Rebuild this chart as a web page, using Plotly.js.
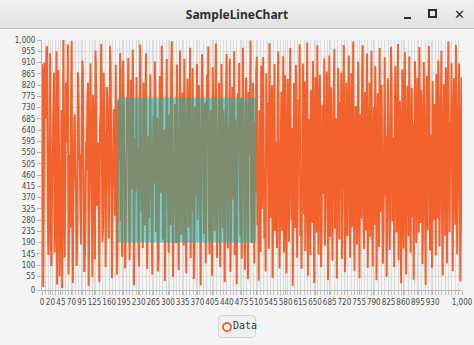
<!DOCTYPE html>
<html>
<head>
<meta charset="utf-8">
<script src="https://cdn.plot.ly/plotly-3.0.1.min.js"></script>
<style>
  html, body { margin: 0; padding: 0; width: 474px; height: 345px; overflow: hidden; background: #f4f4f4; }
  #titlebar { position: absolute; left: 0; top: 0; width: 474px; height: 28px;
    background: linear-gradient(#efefef, #e2e2e2); border-bottom: 1px solid #c4c4c4; z-index: 5;
    font-family: "Noto Sans", "DejaVu Sans", sans-serif; }
  #wtitle { position: absolute; left: 0; width: 474px; top: 6px; text-align: center; font-size: 12px; font-weight: bold; color: #2e2e2e; }
  #bmin { position: absolute; left: 404px; top: 17px; width: 7px; height: 2px; background: #2e2e2e; }
  #bmax { position: absolute; left: 428px; top: 9px; width: 5px; height: 5px; border: 2px solid #2e2e2e; }
  #bclose { position: absolute; left: 454px; top: 5px; font-size: 13px; font-weight: bold; color: #2e2e2e; }
  #chart { position: absolute; left: 0; top: 0; width: 474px; height: 345px; }
  #legend { position: absolute; left: 218px; top: 315px; width: 38px; height: 23px; box-sizing: border-box;
    border: 1px solid #d4d4d4; border-radius: 4px; background: #f0f0f0; z-index: 5; }
  #legsym { position: absolute; left: 3px; top: 6px; width: 6px; height: 6px; border: 2px solid #f3622d; border-radius: 50%; background: #fff; }
  #legtxt { position: absolute; left: 14px; top: 4px; font-family: "DejaVu Sans Mono", monospace; font-size: 10px; color: #333; }
</style>
</head>
<body>
<div id="titlebar"><div id="wtitle">SampleLineChart</div><div id="bmin"></div><div id="bmax"></div><div id="bclose">✕</div></div>
<div id="chart"></div>
<div id="legend"><div id="legsym"></div><div id="legtxt"></div></div>
<script>
var seriesName = "Data";

// series values (667 samples spread over 0..1000)
var yValues = [
905,874,12,433,910,702,688,962,975,355,140,268,520,947,180,96,412,640,603,870,150,221,430,955,22,
781,880,557,55,260,318,720,8,472,1000,415,130,366,830,611,589,982,62,199,540,250,731,995,310,28,
512,640,702,455,388,96,230,871,763,519,544,301,182,655,918,860,409,72,137,266,593,480,741,829,15,
348,377,906,614,238,52,781,693,460,122,957,815,336,407,589,275,31,648,701,984,436,192,258,870,563,
627,91,344,812,755,419,206,538,975,880,163,47,390,612,724,538,297,901,446,61,183,759,632,520,948,
276,405,133,889,917,650,318,87,246,502,771,694,928,354,119,268,841,577,403,962,731,19,245,608,395,
852,463,571,206,94,738,982,625,314,447,168,830,577,259,703,946,411,85,332,617,290,774,862,538,147,
61,523,698,427,915,801,232,356,689,74,125,493,856,610,388,977,745,202,519,641,36,297,813,924,458,
367,149,702,583,260,871,996,416,53,285,638,744,519,187,902,433,326,80,675,958,541,220,376,790,612,
178,925,484,339,67,592,846,713,251,408,969,128,664,315,887,529,44,153,734,612,377,905,281,496,820,
541,302,18,677,943,816,469,224,587,750,106,398,861,632,975,270,143,509,718,384,57,892,627,441,236,
764,986,355,128,470,603,829,311,92,537,904,662,248,719,415,31,580,863,944,297,166,652,488,925,73,
236,598,812,427,361,955,140,682,509,23,347,788,631,908,452,215,767,126,583,969,707,342,81,466,849,
615,277,43,792,538,680,998,364,187,445,829,552,106,671,391,874,933,260,485,38,719,604,152,897,326,
488,931,611,205,353,74,867,520,749,412,165,987,673,288,530,819,47,371,655,904,236,592,430,168,771,
954,502,86,329,618,793,237,477,935,150,702,859,316,66,581,844,412,193,726,968,530,281,647,17,393,
829,664,248,901,475,129,358,762,596,983,216,437,85,548,906,679,302,834,155,421,763,990,58,317,684,
443,140,799,532,267,916,645,27,372,851,588,230,979,406,142,697,861,508,91,263,742,615,384,926,177,
296,553,874,701,39,486,938,213,630,811,359,117,572,802,964,245,419,685,46,327,889,574,202,751,498,
870,123,397,658,980,541,71,306,829,447,215,696,938,574,129,381,867,250,612,994,330,77,488,736,564,
182,645,913,368,47,703,527,286,854,979,405,163,621,792,238,517,946,88,349,671,830,212,466,957,309,
94,578,732,261,895,614,39,402,786,543,172,968,310,687,821,456,105,239,762,931,378,615,53,284,847,
690,417,160,528,973,826,275,348,611,92,743,897,460,231,569,984,119,402,758,635,27,307,882,549,166,
723,951,384,62,497,816,640,215,934,387,150,579,808,293,666,41,521,915,734,187,361,848,597,230,972,
415,268,799,636,104,327,912,583,466,20,674,857,239,511,976,742,158,395,621,88,837,603,281,744,459,
139,863,504,286,918,735,174,432,692,957,310,58,548,823,645,217,890,371,106,759,994,462,231,676,538,
907,322,75,614,847,493,261,980,727,143,382,665,906,525,34,298,851];

// sample spacing on the 0..1000 axis
var sampleStep = 1.5;
var xValues = yValues.map(function (v, i) { return i * sampleStep; });

// highlighted region corners
var regionX = [180, 510, 510, 180, 180];
var regionY = [190, 190, 770, 770, 190];

// tick labels
var xTickVals = [0,20,45,70,95,125,160,195,230,265,300,335,370,405,440,475,510,545,580,615,650,685,720,755,790,825,860,895,930,1000];
var xTickText = ["0","20","45","70","95","125","160","195","230","265","300","335","370","405","440","475","510","545","580","615","650","685","720","755","790","825","860","895","930","1,000"];
var yTickVals = [0,55,100,145,190,235,280,325,370,415,460,505,550,595,640,685,730,775,820,865,910,955,1000];
var yTickText = ["0","55","100","145","190","235","280","325","370","415","460","505","550","595","640","685","730","775","820","865","910","955","1,000"];

document.getElementById("legtxt").textContent = seriesName;

var orange = "#f3622d";
var tickFont = {family: "DejaVu Sans Condensed, DejaVu Sans Mono, monospace", size: 8, color: "#4a4a4a"};

var traces = [
  {x: xValues, y: yValues, type: "scatter", mode: "lines", name: seriesName, line: {color: orange, width: 2}, showlegend: false, hoverinfo: "skip"},
  {x: regionX, y: regionY, type: "scatter", mode: "lines", fill: "toself", fillcolor: "rgba(15,179,170,0.52)", line: {width: 0}, showlegend: false, hoverinfo: "skip"}
];

var layout = {
  width: 474, height: 345,
  margin: {l: 42, r: 12, t: 40, b: 55},
  paper_bgcolor: "#f4f4f4",
  plot_bgcolor: "#f4f4f4",
  showlegend: false,
  xaxis: {range: [0, 1000], tickmode: "array", tickvals: xTickVals, ticktext: xTickText,
    tickangle: 0, tickfont: tickFont, ticks: "outside", ticklen: 4, tickcolor: "#b5b5b5",
    showgrid: true, gridcolor: "#d9d9d9", gridwidth: 1, zeroline: false,
    showline: true, linecolor: "#b5b5b5",
    minor: {dtick: 8, tick0: 0, ticks: "outside", ticklen: 4, tickcolor: "#c4c4c4", showgrid: true, gridcolor: "#dcdcdc", gridwidth: 1}},
  yaxis: {range: [0, 1000], tickmode: "array", tickvals: yTickVals, ticktext: yTickText,
    tickfont: tickFont, ticks: "outside", ticklen: 4, tickcolor: "#b5b5b5",
    showgrid: true, gridcolor: "#d9d9d9", gridwidth: 1, zeroline: false,
    showline: true, linecolor: "#b5b5b5"}
};

Plotly.newPlot("chart", traces, layout, {displayModeBar: false, staticPlot: true});
</script>
</body>
</html>
